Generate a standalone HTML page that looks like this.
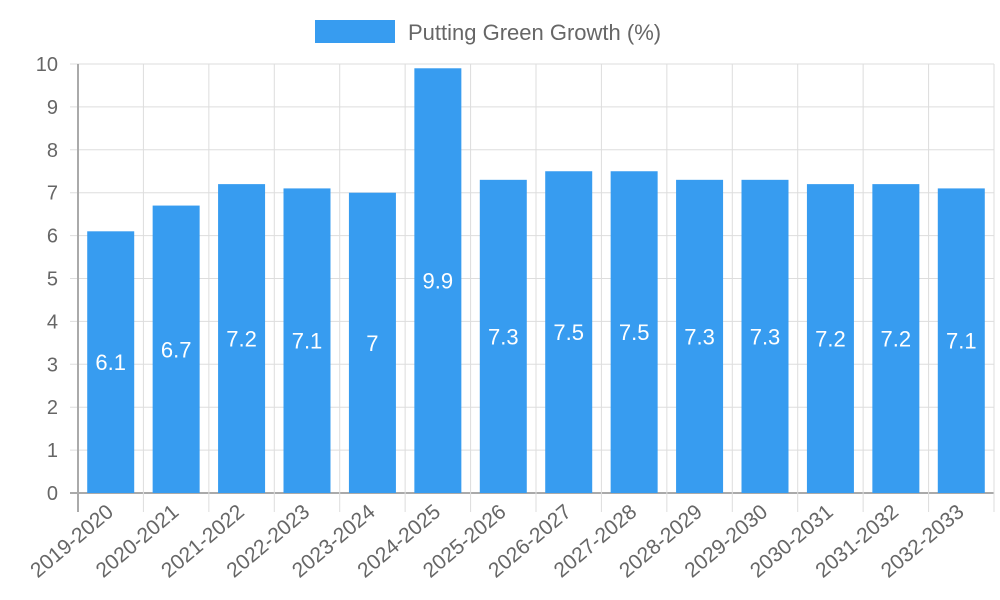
<!DOCTYPE html>
<html><head><meta charset="utf-8"><style>
body{margin:0;background:#fff;font-family:"Liberation Sans",sans-serif}
svg{display:block}
</style></head><body>
<svg id="c" width="1000" height="600"></svg>
<script>
const categories=["2019-2020","2020-2021","2021-2022","2022-2023","2023-2024","2024-2025","2025-2026","2026-2027","2027-2028","2028-2029","2029-2030","2030-2031","2031-2032","2032-2033"];
const values=[6.1,6.7,7.2,7.1,7,9.9,7.3,7.5,7.5,7.3,7.3,7.2,7.2,7.1];
const yTicks=[0,1,2,3,4,5,6,7,8,9,10];
const seriesName="Putting Green Growth (%)";
const NS="http://www.w3.org/2000/svg";
const svg=document.getElementById('c');
const L=78,R=994,T=64,B=493,yMax=10;
const bw=(R-L)/categories.length;
const y=v=>B-(v/yMax)*(B-T);
const x=i=>L+i*bw;
function mk(t,a,p){const e=document.createElementNS(NS,t);for(const k in a)e.setAttribute(k,a[k]);(p||svg).appendChild(e);return e;}
// legend
const lg=mk('g',{});


mk('rect',{x:315,y:20,width:80,height:23,fill:'#379cf0'},lg);
const lt=mk('text',{x:408,y:40,'font-size':22,fill:'#666'},lg);lt.textContent=seriesName;
// grid + y ticks
yTicks.forEach(v=>{
 const g=mk('line',{x1:70,x2:R,y1:y(v),y2:y(v),stroke:v===0?'#aaa':'#ddd','stroke-width':v===0?2:1});
 
 
 const t=mk('text',{x:58,y:y(v)+7,'font-size':20,fill:'#666','text-anchor':'end'});t.textContent=v;
 
 
});
for(let i=0;i<=categories.length;i++){
 const g=mk('line',{x1:x(i),x2:x(i),y1:T,y2:512,stroke:i===0?'#aaa':'#ddd','stroke-width':i===0?2:1});
 
 
}
categories.forEach((c,i)=>{
 const cx=x(i)+bw/2,w=47;
 const r=mk('rect',{x:cx-w/2,y:y(values[i]),width:w,height:B-y(values[i]),fill:'#379cf0'});
 
 
 const vt=mk('text',{x:cx,y:(y(values[i])+B)/2+8,'font-size':22,fill:'#fff','text-anchor':'middle'});vt.textContent=values[i];
 
 
 const xt=mk('text',{x:cx+4,y:514,'font-size':21,fill:'#666','text-anchor':'end',transform:`rotate(-40 ${cx+4} 514)`});xt.textContent=c;
 
 
});
</script>
</body></html>
